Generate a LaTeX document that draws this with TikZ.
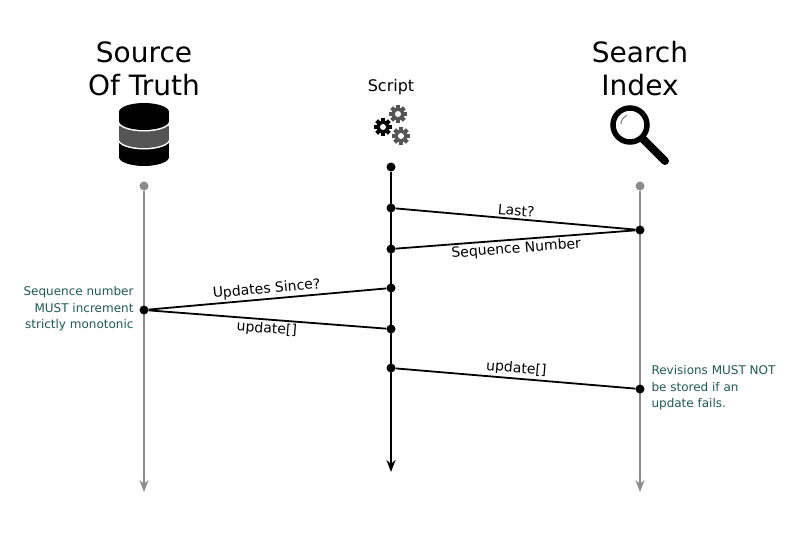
\documentclass[tikz,border=0pt]{standalone}
\usepackage{fontspec}
\setmainfont{DejaVu Sans}
\usetikzlibrary{arrows.meta}
\definecolor{note}{HTML}{1E5A4E}
\definecolor{lgray}{HTML}{8C8C8C}
\definecolor{dgray}{HTML}{555555}
\begin{document}
\begin{tikzpicture}[x=1pt,y=-1pt,
  title/.style={font=\fontsize{28}{33}\selectfont, align=center},
  msg/.style={line width=1.8pt, black},
  lbl/.style={font=\fontsize{14}{16}\selectfont, sloped},
  notetxt/.style={font=\fontsize{12}{16.5}\selectfont, text=note},
  dot/.style={circle, fill=black, inner sep=0pt, minimum size=9pt},
  gdot/.style={circle, fill=lgray, inner sep=0pt, minimum size=9pt},
  gear/.pic={\fill[#1] (0,0) circle (6.3);
     \foreach \a in {0,45,...,315}{\fill[#1, rotate=\a] (-2,0) rectangle (2,9);}
     \fill[white] (0,0) circle (3);}
]
\useasboundingbox (0,0) rectangle (800,533);
% titles
\node[title] (t1) at (144,69) {Source\\Of Truth};
\node[title] (t3) at (640,69) {Search\\Index};
\node[font=\fontsize{16}{19}\selectfont] (t2) at (391,87) {Script};
% database icon
\fill[black] (119,142) rectangle (169,157);
\fill[black] (144,157) ellipse (25 and 9);
\draw[white, line width=3pt] (144,139) ellipse (25 and 9);
\fill[dgray] (119,126) rectangle (169,139);
\fill[dgray] (144,139) ellipse (25 and 9);
\draw[white, line width=3pt] (144,121) ellipse (25 and 9);
\fill[black] (119,112) rectangle (169,121);
\fill[black] (144,121) ellipse (25 and 9);
\fill[black] (144,112) ellipse (25 and 9);
% gears
\pic at (383,127) {gear=black};
\pic at (398,114) {gear=dgray};
\pic at (401,136) {gear=dgray};
% magnifier
\draw[line width=5.5pt] (630,125) circle (17);
\draw[line width=8pt, line cap=round] (643,139) -- (665,161);
\draw[line width=1.2pt, lgray] (621,124) arc[start angle=180,end angle=250,radius=9];
% lifelines
\node[gdot] (a0) at (144,186) {};
\coordinate (a1) at (144,492);
\node[dot] (b0) at (391,167) {};
\coordinate (b1) at (391,472);
\node[gdot] (c0) at (640,186) {};
\coordinate (c1) at (640,492);
\draw[lgray, line width=2.4pt, -{Stealth[length=12pt,width=9pt]}] (a0) -- (a1);
\draw[black, line width=2.4pt, -{Stealth[length=12pt,width=9pt]}] (b0) -- (b1);
\draw[lgray, line width=2.4pt, -{Stealth[length=12pt,width=9pt]}] (c0) -- (c1);
% message points
\node[dot] (m1) at (391,208) {};
\node[dot] (m2) at (640,230) {};
\node[dot] (m3) at (391,249) {};
\node[dot] (m4) at (391,288) {};
\node[dot] (m5) at (144,310) {};
\node[dot] (m6) at (391,329) {};
\node[dot] (m7) at (391,368) {};
\node[dot] (m8) at (640,389) {};
\draw[msg] (m1) -- node[lbl, above, inner sep=2pt] {Last?} (m2);
\draw[msg] (m2) -- node[lbl, below, inner sep=2pt] {Sequence Number} (m3);
\draw[msg] (m4) -- node[lbl, above, inner sep=2pt] {Updates Since?} (m5);
\draw[msg] (m5) -- node[lbl, below, inner sep=2pt] {update[]} (m6);
\draw[msg] (m7) -- node[lbl, above, inner sep=2pt] {update[]} (m8);
% notes
\node[notetxt, align=right, anchor=east] (n1) at (137,309) {Sequence number\\MUST increment\\strictly monotonic};
\node[notetxt, align=left, anchor=west] (n2) at (648,388) {Revisions MUST NOT\\be stored if an\\update fails.};
\end{tikzpicture}
\end{document}
